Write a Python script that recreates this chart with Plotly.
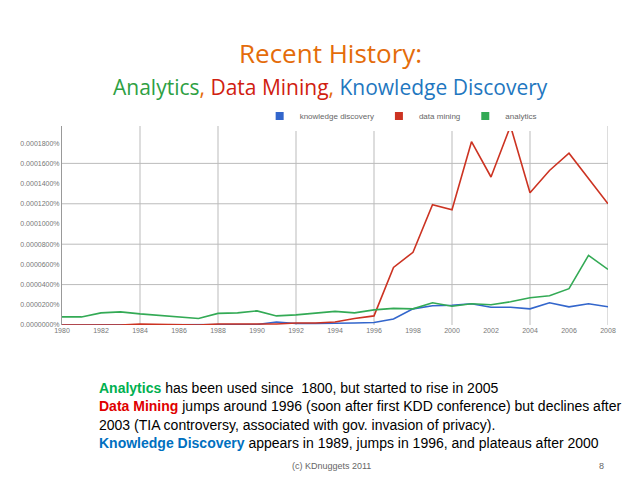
import plotly.graph_objects as go

years = list(range(1980, 2009))
knowledge_discovery = [0,0,0,0,0,0,0,0,0,0,0.5,3,1.5,1.5,1.5,2,2.5,6,16,19,19.5,21,17.5,17.5,16,22,18,21,18]
data_mining = [0,0,0,0,1,0.5,0,0,1,1,0.5,1,2,2,3,6.5,9,57,72,119,114,181.5,146.5,197,131,153,170,145,120]
analytics = [8,8,12,13,11,9.5,8,6.5,11.5,12,14,9,10,12,13.5,12,15,16.5,16,22,18.5,21,20,23,27,29,36,69,55]
scale = 1e-6
ytick_vals = [0,20,40,60,80,100,120,140,160,180]
ytick_text = ["0.%07d%%" % (v * 10) for v in ytick_vals]
ygrid = [40, 80, 120, 160]
xgrid = [1984, 1988, 1992, 1996, 2000, 2004, 2008]
xticks = list(range(1980, 2009, 2))

fig = go.Figure()
series = [("knowledge discovery", knowledge_discovery, "#3366CC"),
          ("data mining", data_mining, "#CC3322"),
          ("analytics", analytics, "#33AA55")]
for name, vals, col in series:
    fig.add_trace(go.Scatter(x=years, y=[v * scale for v in vals], name=name, mode="lines",
                             line=dict(color=col, width=1.6), showlegend=False))
for name, vals, col in series:
    fig.add_trace(go.Scatter(x=[None], y=[None], name=name, mode="markers",
                             marker=dict(color=col, symbol="square", size=8)))

shapes = []
for g in ygrid:
    shapes.append(dict(type="line", xref="paper", yref="y", x0=0, x1=1, y0=g*scale, y1=g*scale,
                       line=dict(color="#BBBBBB", width=1), layer="below"))
for g in xgrid:
    shapes.append(dict(type="line", xref="x", yref="paper", x0=g, x1=g, y0=0, y1=1,
                       line=dict(color="#BBBBBB", width=1), layer="below"))

def py(p):
    return (317 - p) / 199.0
def px(p):
    return (p - 47) / 553.0

ann = []
ann.append(dict(text="Recent History:", x=px(319), y=py(45), xref="paper", yref="paper", showarrow=False,
                yanchor="middle", font=dict(family="Open Sans", size=26, color="#E46C0A")))
ann.append(dict(text="<span style='color:#2EA043'>Analytics</span>, <span style='color:#D02010'>Data Mining</span>, <span style='color:#1F77C0'>Knowledge Discovery</span>",
                x=px(319), y=py(79), xref="paper", yref="paper", showarrow=False, yanchor="middle",
                font=dict(family="Open Sans", size=21, color="#E46C0A")))
body = [
    "<b><span style='color:#00B050'>Analytics</span></b> has been used since  1800, but started to rise in 2005",
    "<b><span style='color:#E00000'>Data Mining</span></b> jumps around 1996 (soon after first KDD conference) but declines after",
    "2003 (TIA controversy, associated with gov. invasion of privacy).",
    "<b><span style='color:#0070C0'>Knowledge Discovery</span></b> appears in 1989, jumps in 1996, and plateaus after 2000",
]
for i, line in enumerate(body):
    ann.append(dict(text=line, x=px(82), y=py(380 + i * 18.3), xref="paper", yref="paper", showarrow=False,
                    xanchor="left", yanchor="middle", font=dict(family="Liberation Sans", size=14, color="#000000")))
ann.append(dict(text="(c) KDnuggets 2011", x=px(320), y=py(458), xref="paper", yref="paper", showarrow=False,
                yanchor="middle", font=dict(family="Liberation Sans", size=9, color="#666666")))
ann.append(dict(text="8", x=px(598), y=py(458), xref="paper", yref="paper", showarrow=False,
                yanchor="middle", font=dict(family="Liberation Sans", size=9, color="#666666")))

fig.update_layout(
    width=638, height=478, margin=dict(l=47, r=38, t=118, b=161),
    paper_bgcolor="white", plot_bgcolor="white",
    shapes=shapes, annotations=ann,
    legend=dict(orientation="h", x=px(390), y=py(108), xanchor="center", yanchor="middle",
                font=dict(family="Liberation Sans", size=8, color="#666666"), itemwidth=30,
                tracegroupgap=0),
    xaxis=dict(range=[1980, 2008], tickvals=xticks, showgrid=False, zeroline=False,
               tickfont=dict(family="Liberation Sans", size=7, color="#777777"), ticks="",
               showline=False),
    yaxis=dict(range=[0, 197e-6], tickvals=[v*scale for v in ytick_vals], ticktext=ytick_text,
               showgrid=False, zeroline=False, ticks="", showline=True, linecolor="#999999",
               tickfont=dict(family="Liberation Sans", size=7, color="#777777")),
)
fig.write_html("out.html")
